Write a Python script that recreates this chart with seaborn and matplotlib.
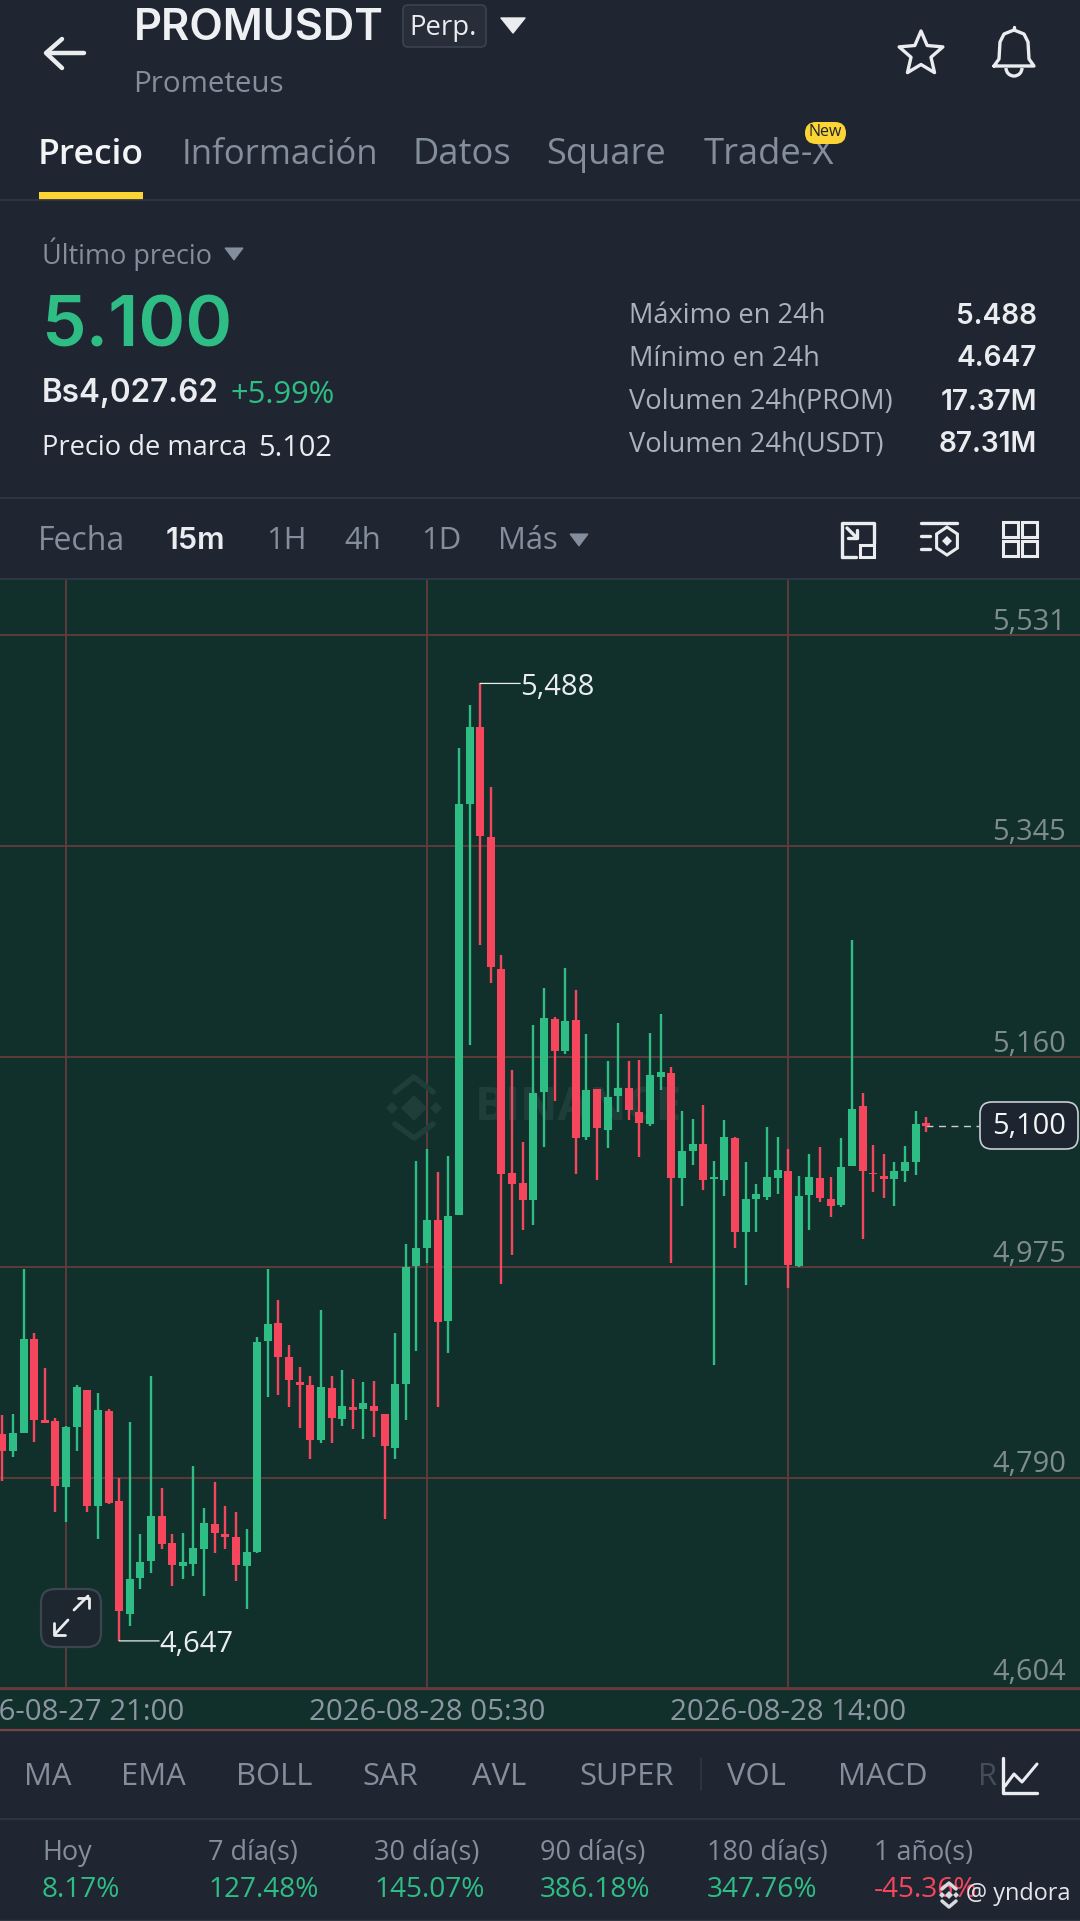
import numpy as np
import pandas as pd
import matplotlib
matplotlib.use("Agg")
import matplotlib.pyplot as plt
import seaborn as sns
from matplotlib.patches import FancyBboxPatch, Polygon, Rectangle, Arc

# Candles, 15 minute bars, oldest first
opens = [4829.4, 4814.6, 4830.7, 4912.3, 4841.8, 4840.8, 4782.7, 4835.4, 4868.3, 4766.6, 4849.5,
         4770.6, 4672.0, 4702.9, 4718.0, 4757.2, 4733.4, 4713.9, 4715.6, 4729.0, 4750.5, 4742.1,
         4739.4, 4713.9, 4726.3, 4910.6, 4927.0, 4896.5, 4875.3, 4872.3, 4824.3, 4870.0, 4842.5,
         4853.5, 4851.5, 4854.2, 4847.1, 4816.9, 4873.3, 4977.0, 4992.2, 5017.0, 4928.5, 5021.0,
         5381.5, 5449.1, 5353.1, 5236.9, 5057.9, 5049.8, 5034.3, 5129.1, 5193.7, 5165.6, 5192.6,
         5090.0, 5131.7, 5096.3, 5126.2, 5132.4, 5111.4, 5101.1, 5142.8, 5145.7, 5054.2, 5077.8,
         5083.7, 5053.3, 5052.1, 5089.0, 5006.2, 5035.5, 5036.9, 5054.2, 5059.7, 4977.0, 5039.3,
         5053.6, 5035.8, 5030.2, 5064.1, 5116.7, 5058.6, 5055.6, 5052.7, 5060.3, 5068.2, 5101.8]
highs = [4846.5, 4847.1, 4974.0, 4918.3, 4887.4, 4843.1, 4836.1, 4872.3, 4868.3, 4865.3, 4851.2,
         4790.8, 4839.8, 4741.8, 4880.4, 4781.7, 4742.1, 4742.5, 4801.5, 4764.6, 4787.4, 4766.6,
         4760.6, 4745.8, 4914.3, 4974.0, 4946.5, 4907.2, 4888.1, 4880.4, 4938.1, 4880.4, 4885.4,
         4877.3, 4875.3, 4876.3, 4847.1, 4918.3, 4996.3, 5069.0, 5079.0, 5059.0, 5073.0, 5431.3,
         5468.2, 5487.5, 5396.3, 5249.8, 5149.0, 5085.2, 5188.2, 5220.6, 5195.2, 5237.6, 5218.8,
         5179.7, 5131.7, 5156.8, 5190.0, 5156.8, 5157.5, 5180.8, 5197.7, 5150.9, 5112.9, 5105.9,
         5117.6, 5069.1, 5104.7, 5089.5, 5067.6, 5048.9, 5098.9, 5089.5, 5079.0, 5055.6, 5074.9,
         5080.8, 5055.1, 5088.7, 5262.6, 5128.7, 5082.5, 5074.9, 5067.9, 5081.6, 5112.6, 5107.7]
lows = [4788.4, 4809.6, 4830.7, 4822.7, 4839.1, 4760.6, 4752.5, 4814.9, 4760.6, 4737.1, 4768.3,
        4648.0, 4660.9, 4693.8, 4707.9, 4729.0, 4695.8, 4701.9, 4704.5, 4687.8, 4724.7, 4729.0,
        4700.9, 4675.7, 4725.0, 4861.6, 4863.6, 4853.5, 4834.4, 4807.6, 4821.6, 4821.6, 4836.7,
        4833.7, 4824.7, 4826.7, 4754.5, 4807.6, 4841.7, 4902.5, 4979.1, 4852.8, 4900.7, 5021.0,
        5170.1, 5257.9, 5225.1, 4960.5, 4986.3, 5008.4, 5012.5, 5081.1, 5121.4, 5162.3, 5057.1,
        5087.4, 5052.4, 5080.0, 5112.1, 5104.4, 5072.3, 5099.2, 5131.0, 4979.3, 5029.3, 5065.0,
        5043.4, 4889.6, 5038.1, 4992.2, 4960.4, 5006.2, 5034.3, 5040.1, 4957.1, 4975.6, 5008.3,
        5033.1, 5019.4, 5028.5, 5064.1, 5000.4, 5041.9, 5036.1, 5029.3, 5050.1, 5056.8, 5093.9]
closes = [4814.6, 4830.4, 4912.3, 4841.8, 4839.1, 4783.7, 4835.4, 4870.3, 4766.6, 4850.5, 4769.3,
          4674.0, 4701.9, 4717.6, 4757.6, 4732.7, 4714.9, 4717.6, 4729.4, 4751.5, 4742.8, 4738.8,
          4714.9, 4726.3, 4910.2, 4926.0, 4896.8, 4876.7, 4872.3, 4824.3, 4870.3, 4843.8, 4854.2,
          4850.8, 4856.2, 4849.5, 4818.6, 4873.3, 4976.1, 4992.2, 5017.0, 4927.3, 5020.9, 5381.5,
          5449.1, 5353.8, 5238.7, 5057.1, 5048.3, 5034.3, 5128.7, 5194.4, 5165.3, 5191.5, 5088.9,
          5130.6, 5097.4, 5124.7, 5132.4, 5113.2, 5102.2, 5143.9, 5146.8, 5054.2, 5077.8, 5083.7,
          5052.1, 5055.1, 5089.5, 5006.2, 5035.2, 5040.1, 5054.8, 5060.9, 4977.6, 5038.1, 5054.8,
          5036.1, 5029.3, 5063.8, 5114.7, 5060.3, 5057.1, 5052.7, 5059.7, 5067.6, 5101.5, 5099.8]

tick_prices = [4607, 4790.5, 4975.5, 5160, 5345, 5530]
tick_labels = ["4,604", "4,790", "4,975", "5,160", "5,345", "5,531"]
time_idx = [6, 40, 74]
time_labels = ["2026-08-27 21:00", "2026-08-28 05:30", "2026-08-28 14:00"]

stat_names = ["Máximo en 24h", "Mínimo en 24h", "Volumen 24h(PROM)", "Volumen 24h(USDT)"]
stat_values = ["5.488", "4.647", "17.37M", "87.31M"]
perf_names = ["Hoy", "7 día(s)", "30 día(s)", "90 día(s)", "180 día(s)", "1 año(s)"]
perf_values = ["8.17%", "127.48%", "145.07%", "386.18%", "347.76%", "-45.36%"]
indicators = ["MA", "EMA", "BOLL", "SAR", "AVL", "SUPER", "VOL", "MACD"]
indicator_x = [24, 121, 236, 362, 472, 579, 727, 838]

UI_BG = "#1f2631"
CHART_BG = "#12302b"
GRID = "#653c3b"
GREEN = "#2ebd85"
RED = "#f6465d"
GRAY = "#848e9c"
LIGHT = "#eaecef"
LINE = "#2f3742"
MARK = "#1f3d39"

sns.set_theme(style="dark", rc={"axes.facecolor": CHART_BG, "figure.facecolor": UI_BG})
plt.rcParams["font.family"] = ["Open Sans", "DejaVu Sans"]

fig = plt.figure(figsize=(10.8, 19.21), dpi=100)
FH = 1921.0
ax = fig.add_axes([0, 1 - 1688 / FH, 1, (1688 - 580) / FH])

# long tables for seaborn, one line per candle
idx = np.arange(len(opens))
direction = np.where(np.array(closes) >= np.array(opens), "up", "down")
wicks = pd.concat([
    pd.DataFrame({"i": idx, "price": lows, "dir": direction}),
    pd.DataFrame({"i": idx, "price": highs, "dir": direction}),
])
bodies = pd.concat([
    pd.DataFrame({"i": idx, "price": opens, "dir": direction}),
    pd.DataFrame({"i": idx, "price": closes, "dir": direction}),
])
palette = {"up": GREEN, "down": RED}

ax.set_xticks(time_idx)
ax.set_yticks(tick_prices)
ax.set_xticklabels([])
ax.set_yticklabels([])
ax.tick_params(length=0)
ax.grid(True, color=GRID, linewidth=1.3)
ax.set_axisbelow(True)
for s in ax.spines.values():
    s.set_visible(False)

sns.lineplot(data=wicks, x="i", y="price", hue="dir", units="i", estimator=None, sort=False,
             palette=palette, linewidth=1.7, legend=False, solid_capstyle="butt", ax=ax, zorder=3)
sns.lineplot(data=bodies, x="i", y="price", hue="dir", units="i", estimator=None, sort=False,
             palette=palette, linewidth=5.8, legend=False, solid_capstyle="butt", ax=ax, zorder=4)
ax.set_xlim(-0.217, 101.48)
ax.set_ylim(4606.7, 4606.7 + 0.8768 * 1108)
ax.set_xlabel("")
ax.set_ylabel("")

# full figure overlay in pixels for the app screen around the chart
ui = fig.add_axes([0, 0, 1, 1], facecolor="none")
ui.set_xlim(0, 1080)
ui.set_ylim(1921, 0)
ui.axis("off")


def put(x, y, s, px, color=LIGHT, ha="left", weight="normal", **kw):
    return ui.text(x, y + 8, s, fontsize=px * 0.72, color=color, ha=ha, va="center", fontweight=weight, **kw)


def stroke(xs, ys, color=LIGHT, lw=2.0, **kw):
    ui.plot(xs, ys, color=color, lw=lw, solid_capstyle="round", solid_joinstyle="round", **kw)


def box(x0, y0, x1, y1, r, fc, ec, lw=1.2, z=5):
    ui.add_patch(FancyBboxPatch((x0 + r, y0 + r), x1 - x0 - 2 * r, y1 - y0 - 2 * r,
                                boxstyle=f"round,pad={r},rounding_size={r}", fc=fc, ec=ec, lw=lw, zorder=z))


# time strip under the chart
ui.add_patch(Rectangle((0, 1688), 1080, 42, fc=CHART_BG, ec="none", zorder=0))
ui.plot([0, 1080], [1689, 1689], color=GRID, lw=1.6)
ui.plot([0, 1080], [1730, 1730], color="#7a4347", lw=1.6)
ui.plot([0, 1080], [579, 579], color=LINE, lw=1.4)

# watermark, kept in the chart axes so the candles stay on top
ax.text(579, 1108, "BINANCE", fontsize=33, fontweight="bold", color=MARK, ha="center", va="center",
        transform=ui.transData, zorder=1)
for cx, cy, r in [(414, 1108, 13), (392, 1108, 6), (436, 1108, 6)]:
    ax.add_patch(Polygon([(cx - r, cy), (cx, cy - r), (cx + r, cy), (cx, cy + r)], fc=MARK, ec="none",
                         transform=ui.transData, zorder=1))
ax.plot([395, 414, 433], [1092, 1077, 1092], color=MARK, lw=4, transform=ui.transData, zorder=1)
ax.plot([395, 414, 433], [1124, 1138, 1124], color=MARK, lw=4, transform=ui.transData, zorder=1)

# header
put(134, 20, "PROMUSDT", 43.5, "#eef0f3", weight=600, family="Inter")
box(403, 5, 486, 47, 5, "#272e39", "#3a434f")
put(443, 20, "Perp.", 27.5, LIGHT, ha="center", zorder=6)
ui.add_patch(Polygon([(501, 18), (525, 18), (513, 33)], fc=LIGHT, ec=LIGHT, lw=1, joinstyle="round"))
put(133, 77, "Prometeus", 29.5, GRAY)
stroke([47, 84], [53, 53], lw=3.2)
stroke([62, 46, 62], [39, 53, 68], lw=3.2)
ang = np.deg2rad(np.arange(10) * 36 - 90)
rad = np.where(np.arange(10) % 2 == 0, 23, 10.5)
ui.add_patch(Polygon(np.c_[921 + rad * np.cos(ang), 54 + rad * np.sin(ang)], fc="none", ec=LIGHT, lw=2.4, joinstyle="round"))
bell_x = [994, 999, 1000, 1004, 1014, 1024, 1028, 1029, 1034, 994]
bell_y = [66, 59, 42, 34, 30, 34, 42, 59, 66, 66]
stroke(bell_x, bell_y, lw=2.4)
stroke([1014, 1014], [27, 30], lw=2.4)
ui.add_patch(Arc((1014, 68), 16, 16, theta1=0, theta2=180, ec=LIGHT, lw=2.4))

# tabs
put(38, 147, "Precio", 35.5, "#f3f4f6", weight=600)
put(182, 147, "Información", 34.6, GRAY)
for x, s in zip([412, 546, 704], ["Datos", "Square", "Trade-X"]):
    put(x, 147, s, 36.4, GRAY)
ui.add_patch(Rectangle((39, 192), 104, 8, fc="#fcd535", ec="none"))
ui.plot([0, 1080], [200, 200], color=LINE, lw=1.3)
box(805, 122, 846, 144, 11, "#fcd535", "none", lw=0)
put(825, 124, "New", 16, "#1e2329", ha="center", zorder=6)

# price block
put(42, 246, "Último precio", 27, GRAY)
ui.add_patch(Polygon([(225, 248), (243, 248), (234, 260)], fc=GRAY, ec=GRAY, lw=0.8))
put(41, 320, "5.100", 71, GREEN, weight=600, family="Inter")
put(42, 386, "Bs4,027.62", 31.5, LIGHT, weight=600, family="Inter")
put(231, 387, "+5.99%", 31, GREEN)
put(42, 440, "Precio de marca", 27.3, LIGHT)
put(258, 440, "5.102", 29, LIGHT)
for y, n, v in zip([308, 351, 394, 437], stat_names, stat_values):
    put(629, y, n, 27.2, "#aab2bd")
    put(1037, y, v, 28, LIGHT, ha="right", weight=600, family="Inter")
ui.plot([0, 1080], [498, 498], color=LINE, lw=1.3)

# interval row
put(38, 533, "Fecha", 32, GRAY)
put(166, 533, "15m", 30.5, LIGHT, weight=600, family="Inter")
for x, s in zip([266, 344, 421, 498], ["1H", "4h", "1D", "Más"]):
    put(x, 533, s, 31, GRAY)
ui.add_patch(Polygon([(570, 534), (588, 534), (579, 546)], fc=GRAY, ec=GRAY, lw=0.8))
stroke([842, 842, 874, 874], [557, 523, 523, 543], lw=2.4)
stroke([842, 856], [557, 557], lw=2.4)
ui.add_patch(Rectangle((860, 545), 14, 12, fc="none", ec=LIGHT, lw=2.2))
stroke([847, 857], [528, 538], lw=2.4)
stroke([848, 857, 857], [538, 538, 530], lw=2.4)
stroke([921, 957], [523, 523], lw=2.4)
stroke([921, 930], [536, 536], lw=2.4)
stroke([921, 930], [549, 549], lw=2.4)
hx = 947 + 12 * np.sin(np.deg2rad(np.arange(6) * 60))
hy = 541 - 14 * np.cos(np.deg2rad(np.arange(6) * 60))
ui.add_patch(Polygon(np.c_[hx, hy], fc="none", ec=LIGHT, lw=2.2))
ui.add_patch(Polygon([(947, 536), (952, 541), (947, 546), (942, 541)], fc=LIGHT, ec="none"))
for x in [1003, 1022]:
    for y in [522, 541]:
        ui.add_patch(Rectangle((x, y), 15, 15, fc="none", ec=LIGHT, lw=2.2))

# axis labels of the chart
for y, s in zip([1664, 1456, 1246, 1036, 824, 615], tick_labels):
    put(1066, y, s, 29, "#7f8c8c", ha="right")
for i, s in zip(time_idx, time_labels):
    px = 2.3 + 10.62 * i
    put(px, 1705, s, 29.5, "#8c96a3", ha="center", clip_on=True)

# high, low and last price marks, tied to the data through annotate
marks = [(idx[np.argmax(highs)], max(highs), 5488), (idx[np.argmin(lows)], min(lows), 4647)]
for mx, my, val in marks:
    ax.annotate("", xy=(mx, my), xytext=(40, 0), textcoords="offset pixels", zorder=8,
                arrowprops=dict(arrowstyle="-", color=LIGHT, lw=0.9, shrinkA=0, shrinkB=0))
    ax.annotate(f"{val:,}", xy=(mx, my), xytext=(40, -4), textcoords="offset pixels",
                color=LIGHT, fontsize=21, va="center", ha="left", zorder=8)
ax.plot([idx[-1], 92], [closes[-1], closes[-1]], color="#c9ced4", lw=1, ls=(0, (5, 4)), zorder=2)
box(980, 1102, 1078, 1149, 12, "#1c2530", "#c9ced4", lw=1.2)
put(1029, 1118, "5,100", 29, "#f3f4f6", ha="center", zorder=6)

# expand button
box(41, 1589, 101, 1647, 14, "#1e2630", "#3b4651", lw=1.6)
stroke([74, 88], [1610, 1596], lw=2.0, zorder=6)
stroke([78, 89, 89], [1598, 1598, 1608], lw=2.0, zorder=6)
stroke([55, 68], [1634, 1620], lw=2.0, zorder=6)
stroke([54, 54, 65], [1623, 1635, 1635], lw=2.0, zorder=6)

# indicators
for x, s in zip(indicator_x, indicators):
    put(x, 1769, s, 31, GRAY)
put(978, 1769, "R", 31, "#454d59")
ui.plot([701, 701], [1758, 1790], color=LINE, lw=1.2)
stroke([1003, 1003, 1037], [1758, 1793, 1793], lw=2.4)
stroke([1005, 1014, 1022, 1037], [1786, 1774, 1782, 1764], lw=2.2)
ui.plot([0, 1080], [1819, 1819], color=LINE, lw=1.3)

# performance row
for x, n, v in zip([42, 208, 374, 540, 707, 874], perf_names, perf_values):
    put(x, 1845, n, 27, GRAY)
    put(x, 1882, v, 28, RED if v.startswith("-") else GREEN)
ui.plot([0, 1080], [1920, 1920], color=LINE, lw=1.0)

# image watermark
for cx, cy, r in [(949, 1895, 4), (942, 1895, 3), (956, 1895, 3)]:
    ui.add_patch(Polygon([(cx - r, cy), (cx, cy - r), (cx + r, cy), (cx, cy + r)], fc="#d8dbe0", ec="none", zorder=7))
stroke([942, 949, 956], [1889, 1883, 1889], color="#d8dbe0", lw=2.5, zorder=7)
stroke([942, 949, 956], [1901, 1907, 1901], color="#d8dbe0", lw=2.5, zorder=7)
put(966, 1886, "@ yndora", 23.5, "#e4e6ea", zorder=7)

fig.savefig("out.png", dpi=100, facecolor=UI_BG)
